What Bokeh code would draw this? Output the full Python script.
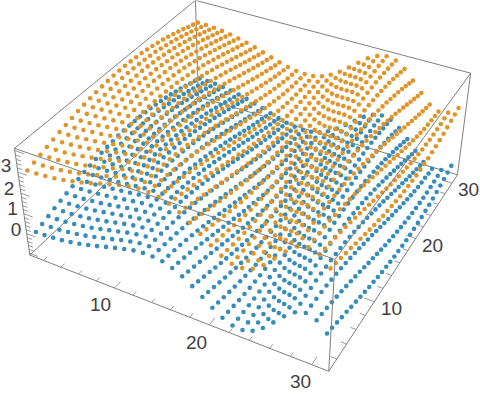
import numpy as np
from bokeh.plotting import figure
from bokeh.models import Range1d, ColumnDataSource
from bokeh.core.properties import value
from bokeh.embed import file_html
from bokeh.resources import INLINE

blue_z = [
[0,.01,.04,.09,.16,.25,.35,.47,.60,.72,.84,.94,.99,.99,.93,.78,.55,.25,-.10,-.45,-.76,-.96,-.99,-.84,-.50,-.03,.46,.85,1,.85,.41],
[.10,.11,.14,.19,.26,.34,.44,.56,.67,.79,.89,.97,1,.98,.88,.71,.46,.15,-.20,-.54,-.82,-.98,-.97,-.78,-.41,.07,.54,.90,1,.79,.32],
[.20,.21,.24,.29,.35,.43,.53,.64,.74,.85,.93,.99,1,.95,.83,.64,.37,.05,-.29,-.62,-.87,-.99,-.95,-.71,-.32,.17,.63,.94,.98,.73,.22],
[.30,.31,.33,.38,.44,.52,.61,.71,.81,.90,.96,1,.99,.91,.77,.56,.28,-.05,-.39,-.69,-.92,-1,-.91,-.64,-.22,.27,.70,.97,.96,.65,.12],
[.39,.40,.43,.47,.53,.61,.69,.78,.86,.94,.99,1,.96,.87,.70,.47,.18,-.15,-.48,-.76,-.95,-1,-.86,-.56,-.12,.36,.77,.99,.93,.58,.03],
[.48,.49,.51,.56,.61,.68,.76,.84,.91,.97,1,.99,.93,.81,.63,.38,.08,-.25,-.56,-.82,-.98,-.98,-.81,-.47,-.02,.45,.83,1,.88,.50,-.08],
[.56,.57,.60,.64,.69,.75,.82,.89,.95,.99,1,.97,.89,.75,.55,.29,-.02,-.34,-.64,-.88,-.99,-.96,-.75,-.38,.08,.54,.88,1,.83,.41,-.17],
[.64,.65,.67,.71,.76,.81,.87,.93,.97,1,.99,.94,.84,.68,.46,.19,-.12,-.43,-.72,-.92,-1,-.92,-.68,-.29,.18,.62,.92,.99,.77,.31,-.27],
[.72,.72,.74,.78,.82,.87,.92,.96,.99,1,.97,.91,.78,.61,.37,.09,-.22,-.52,-.78,-.96,-1,-.88,-.60,-.19,.27,.70,.96,.97,.70,.22,-.37],
[.78,.79,.81,.84,.87,.91,.95,.98,1,.99,.95,.86,.72,.52,.28,-.01,-.31,-.60,-.84,-.98,-.98,-.83,-.52,-.09,.37,.76,.98,.94,.63,.12,-.46],
[.84,.85,.86,.89,.92,.95,.98,1,1,.97,.91,.80,.65,.44,.18,-.11,-.41,-.68,-.89,-.99,-.96,-.76,-.43,.01,.46,.82,1,.91,.55,.02,-.54],
[.89,.90,.91,.93,.95,.98,.99,1,.99,.94,.86,.74,.57,.34,.08,-.21,-.50,-.75,-.93,-1,-.93,-.70,-.34,.11,.54,.88,1,.86,.47,-.09,-.63],
[.93,.94,.95,.96,.98,.99,1,.99,.96,.91,.81,.67,.48,.25,-.02,-.30,-.58,-.81,-.96,-1,-.88,-.62,-.24,.21,.63,.92,.99,.80,.37,-.18,-.70],
[.96,.97,.97,.98,.99,1,1,.98,.93,.86,.75,.59,.39,.15,-.12,-.40,-.66,-.87,-.99,-.98,-.83,-.54,-.14,.31,.70,.95,.98,.74,.28,-.28,-.76],
[.99,.99,.99,1,1,1,.98,.95,.89,.80,.68,.51,.30,.05,-.22,-.49,-.73,-.91,-1,-.96,-.77,-.45,-.04,.40,.77,.98,.95,.67,.19,-.38,-.83],
[1,1,1,1,1,.98,.96,.91,.84,.74,.60,.42,.20,-.05,-.31,-.57,-.80,-.95,-1,-.92,-.71,-.36,.06,.49,.83,.99,.92,.59,.09,-.47,-.88],
[1,1,1,.99,.98,.96,.93,.87,.78,.67,.52,.33,.10,-.15,-.41,-.65,-.85,-.98,-.99,-.88,-.63,-.27,.16,.57,.88,1,.87,.51,-.01,-.55,-.92],
[.99,.99,.99,.98,.96,.93,.88,.81,.72,.59,.43,.23,0,-.25,-.50,-.72,-.90,-.99,-.97,-.83,-.55,-.17,.26,.65,.92,1,.82,.42,-.11,-.63,-.96],
[.97,.97,.96,.95,.93,.89,.83,.75,.65,.51,.33,.13,-.10,-.34,-.58,-.79,-.94,-1,-.95,-.76,-.46,-.07,.35,.73,.96,.98,.76,.33,-.21,-.70,-.98],
[.95,.94,.93,.91,.88,.84,.77,.68,.57,.42,.24,.03,-.20,-.43,-.66,-.85,-.97,-1,-.91,-.70,-.37,.03,.44,.79,.98,.96,.69,.24,-.31,-.77,-1],
[.91,.91,.89,.87,.83,.78,.70,.61,.48,.33,.14,-.07,-.29,-.52,-.73,-.89,-.99,-.98,-.86,-.62,-.28,.13,.53,.85,1,.92,.62,.14,-.39,-.83,-1],
[.86,.86,.84,.81,.77,.71,.63,.52,.39,.23,.04,-.17,-.39,-.60,-.80,-.93,-1,-.96,-.81,-.54,-.18,.23,.61,.90,1,.88,.53,.04,-.49,-.88,-.99],
[.81,.80,.78,.75,.70,.64,.55,.44,.30,.13,-.06,-.27,-.48,-.68,-.85,-.97,-1,-.93,-.75,-.45,-.08,.32,.69,.94,.99,.83,.45,-.06,-.57,-.93,-.98],
[.75,.74,.72,.68,.63,.56,.46,.34,.20,.03,-.16,-.36,-.56,-.75,-.90,-.99,-.99,-.89,-.68,-.36,.02,.41,.76,.97,.98,.77,.36,-.16,-.65,-.96,-.95],
[.68,.67,.65,.61,.55,.47,.37,.25,.10,-.07,-.26,-.45,-.64,-.81,-.94,-1,-.97,-.84,-.60,-.27,.12,.51,.82,.99,.95,.70,.26,-.25,-.73,-.98,-.92],
[.60,.59,.57,.52,.46,.38,.28,.15,0,-.17,-.35,-.54,-.72,-.87,-.97,-1,-.94,-.78,-.52,-.17,.22,.59,.88,1,.92,.62,.17,-.35,-.80,-1,-.88],
[.52,.51,.48,.44,.37,.29,.18,.05,-.10,-.27,-.44,-.62,-.78,-.91,-.99,-.99,-.90,-.71,-.43,-.07,.31,.66,.92,1,.87,.54,.07,-.44,-.86,-1,-.82],
[.43,.42,.39,.34,.28,.19,.08,-.05,-.20,-.36,-.53,-.69,-.84,-.95,-1,-.97,-.85,-.64,-.33,.03,.41,.74,.95,.99,.82,.46,-.03,-.53,-.90,-.99,-.76],
[.33,.33,.30,.25,.18,.09,-.02,-.15,-.29,-.45,-.61,-.76,-.89,-.98,-1,-.94,-.80,-.56,-.24,.13,.49,.80,.98,.97,.76,.37,-.13,-.62,-.93,-.98,-.69],
[.24,.23,.20,.15,.08,-.01,-.12,-.25,-.39,-.54,-.69,-.82,-.93,-.99,-.99,-.91,-.73,-.47,-.14,.23,.58,.86,.99,.94,.69,.27,-.23,-.70,-.97,-.95,-.62],
[.14,.13,.10,.05,-.02,-.11,-.22,-.34,-.48,-.62,-.76,-.88,-.96,-1,-.97,-.86,-.66,-.38,-.04,.32,.66,.90,1,.91,.62,.17,-.32,-.77,-.99,-.91,-.54],
]

orange_z = [
[3,3.01,3.04,3.09,3.16,3.25,3.35,3.47,3.6,3.72,3.84,3.94,3.99,3.99,3.93,3.78,3.55,3.25,2.9,2.55,2.24,2.04,2.01,2.16,2.5,2.97,3.46,3.85,4,3.85,3.41],
[3.1,3.11,3.14,3.19,3.26,3.34,3.44,3.56,3.67,3.79,3.89,3.97,4,3.98,3.88,3.71,3.46,3.15,2.8,2.46,2.18,2.02,2.03,2.22,2.59,3.07,3.54,3.9,4,3.79,3.32],
[3.2,3.21,3.24,3.29,3.35,3.43,3.53,3.64,3.74,3.85,3.93,3.99,4,3.95,3.83,3.64,3.37,3.05,2.71,2.38,2.13,2.01,2.05,2.29,2.68,3.17,3.63,3.94,3.98,3.73,3.22],
[3.3,3.31,3.33,3.38,3.44,3.52,3.61,3.71,3.81,3.9,3.96,4,3.99,3.91,3.77,3.56,3.28,2.95,2.61,2.31,2.08,2,2.09,2.36,2.78,3.27,3.7,3.97,3.96,3.65,3.12],
[3.39,3.4,3.43,3.47,3.53,3.61,3.69,3.78,3.86,3.94,3.99,4,3.96,3.87,3.7,3.47,3.18,2.85,2.52,2.24,2.05,2,2.14,2.44,2.88,3.36,3.77,3.99,3.93,3.58,3.03],
[3.48,3.49,3.51,3.56,3.61,3.68,3.76,3.84,3.91,3.97,4,3.99,3.93,3.81,3.63,3.38,3.08,2.75,2.44,2.18,2.02,2.02,2.19,2.53,2.98,3.45,3.83,4,3.88,3.5,2.92],
[3.56,3.57,3.6,3.64,3.69,3.75,3.82,3.89,3.95,3.99,4,3.97,3.89,3.75,3.55,3.29,2.98,2.66,2.36,2.12,2.01,2.04,2.25,2.62,3.08,3.54,3.88,4,3.83,3.41,2.83],
[3.64,3.65,3.67,3.71,3.76,3.81,3.87,3.93,3.97,4,3.99,3.94,3.84,3.68,3.46,3.19,2.88,2.57,2.28,2.08,2,2.08,2.32,2.71,3.18,3.62,3.92,3.99,3.77,3.31,2.73],
[3.72,3.72,3.74,3.78,3.82,3.87,3.92,3.96,3.99,4,3.97,3.91,3.78,3.61,3.37,3.09,2.78,2.48,2.22,2.04,2,2.12,2.4,2.81,3.27,3.7,3.96,3.97,3.7,3.22,2.63],
[3.78,3.79,3.81,3.84,3.87,3.91,3.95,3.98,4,3.99,3.95,3.86,3.72,3.52,3.28,2.99,2.69,2.4,2.16,2.02,2.02,2.17,2.48,2.91,3.37,3.76,3.98,3.94,3.63,3.12,2.54],
[3.84,3.85,3.86,3.89,3.92,3.95,3.98,4,4,3.97,3.91,3.8,3.65,3.44,3.18,2.89,2.59,2.32,2.11,2.01,2.04,2.24,2.57,3.01,3.46,3.82,4,3.91,3.55,3.02,2.46],
[3.89,3.9,3.91,3.93,3.95,3.98,3.99,4,3.99,3.94,3.86,3.74,3.57,3.34,3.08,2.79,2.5,2.25,2.07,2,2.07,2.3,2.66,3.11,3.54,3.88,4,3.86,3.47,2.91,2.37],
[3.93,3.94,3.95,3.96,3.98,3.99,4,3.99,3.96,3.91,3.81,3.67,3.48,3.25,2.98,2.7,2.42,2.19,2.04,2,2.12,2.38,2.76,3.21,3.63,3.92,3.99,3.8,3.37,2.82,2.3],
[3.96,3.97,3.97,3.98,3.99,4,4,3.98,3.93,3.86,3.75,3.59,3.39,3.15,2.88,2.6,2.34,2.13,2.01,2.02,2.17,2.46,2.86,3.31,3.7,3.95,3.98,3.74,3.28,2.72,2.24],
[3.99,3.99,3.99,4,4,4,3.98,3.95,3.89,3.8,3.68,3.51,3.3,3.05,2.78,2.51,2.27,2.09,2,2.04,2.23,2.55,2.96,3.4,3.77,3.98,3.95,3.67,3.19,2.62,2.17],
[4,4,4,4,4,3.98,3.96,3.91,3.84,3.74,3.6,3.42,3.2,2.95,2.69,2.43,2.2,2.05,2,2.08,2.29,2.64,3.06,3.49,3.83,3.99,3.92,3.59,3.09,2.53,2.12],
[4,4,4,3.99,3.98,3.96,3.93,3.87,3.78,3.67,3.52,3.33,3.1,2.85,2.59,2.35,2.15,2.02,2.01,2.12,2.37,2.73,3.16,3.57,3.88,4,3.87,3.51,2.99,2.45,2.08],
[3.99,3.99,3.99,3.98,3.96,3.93,3.88,3.81,3.72,3.59,3.43,3.23,3,2.75,2.5,2.28,2.1,2.01,2.03,2.17,2.45,2.83,3.26,3.65,3.92,4,3.82,3.42,2.89,2.37,2.04],
[3.97,3.97,3.96,3.95,3.93,3.89,3.83,3.75,3.65,3.51,3.33,3.13,2.9,2.66,2.42,2.21,2.06,2,2.05,2.24,2.54,2.93,3.35,3.73,3.96,3.98,3.76,3.33,2.79,2.3,2.02],
[3.95,3.94,3.93,3.91,3.88,3.84,3.77,3.68,3.57,3.42,3.24,3.03,2.8,2.57,2.34,2.15,2.03,2,2.09,2.3,2.63,3.03,3.44,3.79,3.98,3.96,3.69,3.24,2.69,2.23,2],
[3.91,3.91,3.89,3.87,3.83,3.78,3.7,3.61,3.48,3.33,3.14,2.93,2.71,2.48,2.27,2.11,2.01,2.02,2.14,2.38,2.72,3.13,3.53,3.85,4,3.92,3.62,3.14,2.61,2.17,2],
[3.86,3.86,3.84,3.81,3.77,3.71,3.63,3.52,3.39,3.23,3.04,2.83,2.61,2.4,2.2,2.07,2,2.04,2.19,2.46,2.82,3.23,3.61,3.9,4,3.88,3.53,3.04,2.51,2.12,2.01],
[3.81,3.8,3.78,3.75,3.7,3.64,3.55,3.44,3.3,3.13,2.94,2.73,2.52,2.32,2.15,2.03,2,2.07,2.25,2.55,2.92,3.32,3.69,3.94,3.99,3.83,3.45,2.94,2.43,2.07,2.02],
[3.75,3.74,3.72,3.68,3.63,3.56,3.46,3.34,3.2,3.03,2.84,2.64,2.44,2.25,2.1,2.01,2.01,2.11,2.32,2.64,3.02,3.41,3.76,3.97,3.98,3.77,3.36,2.84,2.35,2.04,2.05],
[3.68,3.67,3.65,3.61,3.55,3.47,3.37,3.25,3.1,2.93,2.74,2.55,2.36,2.19,2.06,2,2.03,2.16,2.4,2.73,3.12,3.51,3.82,3.99,3.95,3.7,3.26,2.75,2.27,2.02,2.08],
[3.6,3.59,3.57,3.52,3.46,3.38,3.28,3.15,3,2.83,2.65,2.46,2.28,2.13,2.03,2,2.06,2.22,2.48,2.83,3.22,3.59,3.88,4,3.92,3.62,3.17,2.65,2.2,2,2.12],
[3.52,3.51,3.48,3.44,3.37,3.29,3.18,3.05,2.9,2.73,2.56,2.38,2.22,2.09,2.01,2.01,2.1,2.29,2.57,2.93,3.31,3.66,3.92,4,3.87,3.54,3.07,2.56,2.14,2,2.18],
[3.43,3.42,3.39,3.34,3.28,3.19,3.08,2.95,2.8,2.64,2.47,2.31,2.16,2.05,2,2.03,2.15,2.36,2.67,3.03,3.41,3.74,3.95,3.99,3.82,3.46,2.97,2.47,2.1,2.01,2.24],
[3.33,3.33,3.3,3.25,3.18,3.09,2.98,2.85,2.71,2.55,2.39,2.24,2.11,2.02,2,2.06,2.2,2.44,2.76,3.13,3.49,3.8,3.98,3.97,3.76,3.37,2.87,2.38,2.07,2.02,2.31],
[3.24,3.23,3.2,3.15,3.08,2.99,2.88,2.75,2.61,2.46,2.31,2.18,2.07,2.01,2.01,2.09,2.27,2.53,2.86,3.23,3.58,3.86,3.99,3.94,3.69,3.27,2.77,2.3,2.03,2.05,2.38],
[3.14,3.13,3.1,3.05,2.98,2.89,2.78,2.66,2.52,2.38,2.24,2.12,2.04,2,2.03,2.14,2.34,2.62,2.96,3.32,3.66,3.9,4,3.91,3.62,3.17,2.68,2.23,2.01,2.09,2.46],
]

x_ticks = list(range(2, 31, 2))
y_ticks = list(range(2, 31, 2))
z_ticks = [round(-1 + 0.2 * k, 1) for k in range(26)]
x_labels = ["10", "20", "30"]
y_labels = ["10", "20", "30"]
z_labels = ["0", "1", "2", "3"]

BLUE = "#368dbb"
ORANGE = "#e0952a"
EDGE = "#808080"
TEXT = "#404040"

XL, XH, YL, YH, ZL, ZH = 0.4, 31.6, 0.4, 31.6, -1.1, 4.1
box_world = [(XL,YL,ZL),(XH,YL,ZL),(XH,YH,ZL),(XL,YH,ZL),(XL,YL,ZH),(XH,YL,ZH),(XH,YH,ZH),(XL,YH,ZH)]
box_page = [(30,255),(328.3,371),(456.7,175),(197.5,95),(13.3,148),(334.5,258),(470.5,72.5),(195.3,0.5)]

A = []
for (X, Y, Z), (u, v) in zip(box_world, box_page):
    A.append([X, Y, Z, 1, 0, 0, 0, 0, -u*X, -u*Y, -u*Z, -u])
    A.append([0, 0, 0, 0, X, Y, Z, 1, -v*X, -v*Y, -v*Z, -v])
P = np.linalg.svd(np.array(A, float))[2][-1].reshape(3, 4)
if P[2] @ np.array([16, 16, 1, 1.0]) < 0:
    P = -P

def project(X, Y, Z):
    h = P @ np.vstack([np.asarray(X, float), np.asarray(Y, float), np.asarray(Z, float), np.ones(np.size(X))])
    return h[0] / h[2], h[1] / h[2], h[2]

p = figure(width=480, height=394, x_range=Range1d(0, 480), y_range=Range1d(394, 0),
           output_backend="svg", toolbar_location=None, min_border=0,
           outline_line_color=None)
p.xaxis.visible = False
p.yaxis.visible = False
p.grid.visible = False

def segs(pairs, width=1.0, color=EDGE):
    a = np.array([q[0] for q in pairs], float).T
    b = np.array([q[1] for q in pairs], float).T
    x0, y0, _ = project(*a)
    x1, y1, _ = project(*b)
    p.segment(x0, y0, x1, y1, line_color=color, line_width=width)

c = box_world
back_edges = [(c[3], c[0]), (c[3], c[2]), (c[3], c[7])]
front_edges = [(c[0],c[1]),(c[1],c[2]),(c[0],c[4]),(c[1],c[5]),(c[2],c[6]),
               (c[4],c[5]),(c[5],c[6]),(c[6],c[7]),(c[7],c[4])]
segs(back_edges)

n = len(blue_z)
yy, xx = np.meshgrid(np.arange(1, n + 1), np.arange(1, n + 1), indexing="ij")
X = np.concatenate([xx.ravel(), xx.ravel()])
Y = np.concatenate([yy.ravel(), yy.ravel()])
Z = np.concatenate([np.array(blue_z, float).ravel(), np.array(orange_z, float).ravel()])
colors = np.array([BLUE] * (n * n) + [ORANGE] * (n * n))
u, v, w = project(X, Y, Z)
order = np.argsort(-w)
src = ColumnDataSource(dict(u=u[order], v=v[order], c=colors[order]))
p.scatter("u", "v", source=src, size=4.6, fill_color="c", line_color=None, marker="circle")

segs(front_edges)

ticks = []
for t in x_ticks:
    L = 1.0 if t % 10 == 0 else 0.55
    ticks.append(((t, YL, ZL), (t, YL + L, ZL)))
for t in y_ticks:
    L = 1.0 if t % 10 == 0 else 0.55
    ticks.append(((XH, t, ZL), (XH - L, t, ZL)))
for t in z_ticks:
    L = 1.0 if abs(t - round(t)) < 1e-6 else 0.55
    ticks.append(((XL, YL, t), (XL + L, YL, t)))
segs(ticks, width=0.8)

lab_x = [100, 196, 300]
lab_y = [304, 342, 381]
p.text(lab_x, lab_y, text=x_labels, text_font=value("Liberation Sans"), text_font_size="19px",
       text_color=TEXT, text_align="center", text_baseline="middle")
lab_x = [391, 432, 468]
lab_y = [308, 245, 189]
p.text(lab_x, lab_y, text=y_labels, text_font=value("Liberation Sans"), text_font_size="19px",
       text_color=TEXT, text_align="center", text_baseline="middle")
lab_x = [15.5, 12, 8.5, 5.5]
lab_y = [229, 208, 188, 165]
p.text(lab_x, lab_y, text=z_labels, text_font=value("Liberation Sans"), text_font_size="19px",
       text_color=TEXT, text_align="center", text_baseline="middle")

open("out.html", "w").write(file_html(p, INLINE))
